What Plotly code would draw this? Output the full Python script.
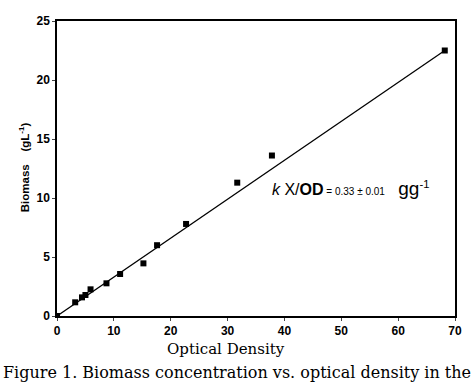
import plotly.graph_objects as go

# Data
optical_density = [0.0, 3.2, 4.4, 5.0, 5.9, 8.7, 11.1, 15.2, 17.6, 22.7, 31.7, 37.8, 68.2]
biomass = [0.0, 1.16, 1.58, 1.78, 2.26, 2.77, 3.56, 4.46, 6.0, 7.8, 11.3, 13.6, 22.5]
fit_slope = 0.33
fit_x = [0.0, 68.2]
fit_y = [fit_slope * v for v in fit_x]

x_ticks = [0, 10, 20, 30, 40, 50, 60, 70]
y_ticks = [0, 5, 10, 15, 20, 25]

fig = go.Figure()
fig.add_trace(go.Scatter(x=fit_x, y=fit_y, mode="lines",
                         line=dict(color="black", width=1.3), showlegend=False))
fig.add_trace(go.Scatter(x=optical_density, y=biomass, mode="markers",
                         marker=dict(symbol="square", size=6, color="black"),
                         showlegend=False))

tick_font = dict(family="Liberation Sans, Arial, sans-serif", size=12, color="black", weight="bold")
fig.update_xaxes(range=[0, 70], tickvals=x_ticks, ticks="outside", ticklen=3,
                 showline=True, linecolor="black", linewidth=1.5, mirror=True,
                 showgrid=False, zeroline=False, automargin=False, tickfont=tick_font)
fig.update_yaxes(range=[0, 25], tickvals=y_ticks, ticks="outside", ticklen=3,
                 showline=True, linecolor="black", linewidth=1.5, mirror=True,
                 showgrid=False, zeroline=False, automargin=False, tickfont=tick_font)

serif = "DejaVu Serif, Liberation Serif, serif"
nb = "\u00a0"
fig.add_annotation(text="Biomass" + nb * 4 + "(gL<sup>-1</sup>)", xref="paper", yref="paper",
                   x=-0.105, y=0.505, textangle=-90, showarrow=False,
                   font=dict(family="Liberation Sans, Arial, sans-serif", size=11.5,
                             color="black", weight="bold"))
fig.add_annotation(text="Optical Density", xref="paper", yref="paper",
                   x=0.425, y=-0.075, yanchor="top", showarrow=False,
                   font=dict(family=serif, size=15, color="black"))
fig.add_annotation(text="Figure 1. Biomass concentration vs. optical density in the",
                   xref="paper", yref="paper", x=-0.14, xanchor="left",
                   y=-0.152, yanchor="top", showarrow=False,
                   font=dict(family=serif, size=16, color="black"))
fig.add_annotation(text="<i>k</i> X/<b>OD</b><span style='font-size:10px'> = 0.33 ± 0.01</span>" + nb * 3
                        + "<span style='font-size:19px'>gg</span><sup>-1</sup>",
                   x=37.5, y=10.8, xanchor="left", showarrow=False,
                   font=dict(family="Liberation Sans, Arial, sans-serif", size=16, color="black"))

fig.update_layout(width=474, height=382, paper_bgcolor="white", plot_bgcolor="white",
                  margin=dict(l=57, r=19, t=21, b=66))
fig.write_html("out.html", config={"displayModeBar": False},
               post_script="document.body.style.margin='0';")
